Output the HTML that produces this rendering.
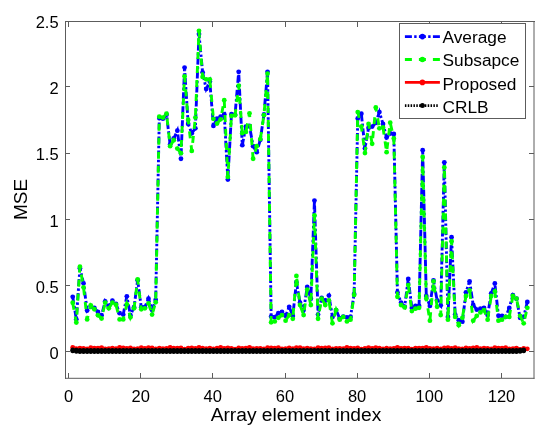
<!DOCTYPE html>
<html><head><meta charset="utf-8"><title>MSE plot</title>
<style>html,body{margin:0;padding:0;background:#fff;}body{width:550px;height:434px;position:relative;overflow:hidden;font-family:"Liberation Sans",Arial,sans-serif;}</style></head>
<body>
<svg width="550" height="434" viewBox="0 0 550 434" style="display:block;position:absolute;left:0;top:0" font-family="'Liberation Sans',Arial,sans-serif" fill="#000">
<rect width="550" height="434" fill="#fff"/>
<g stroke="#5c5c5c" stroke-width="1" fill="none" shape-rendering="crispEdges">
<line x1="65.0" y1="21.5" x2="534.5" y2="21.5"/>
<line x1="65.5" y1="21.5" x2="65.5" y2="378.8"/>
<line x1="65.0" y1="378.3" x2="534.5" y2="378.3" shape-rendering="auto"/>
<line x1="534.0" y1="21.0" x2="534.0" y2="378.8" shape-rendering="auto"/>
<line x1="68.5" y1="378.3" x2="68.5" y2="373.3"/>
<line x1="68.5" y1="21.5" x2="68.5" y2="26.5"/>
<line x1="140.7" y1="378.3" x2="140.7" y2="373.3"/>
<line x1="140.7" y1="21.5" x2="140.7" y2="26.5"/>
<line x1="212.8" y1="378.3" x2="212.8" y2="373.3"/>
<line x1="212.8" y1="21.5" x2="212.8" y2="26.5"/>
<line x1="285.0" y1="378.3" x2="285.0" y2="373.3"/>
<line x1="285.0" y1="21.5" x2="285.0" y2="26.5"/>
<line x1="357.1" y1="378.3" x2="357.1" y2="373.3"/>
<line x1="357.1" y1="21.5" x2="357.1" y2="26.5"/>
<line x1="429.3" y1="378.3" x2="429.3" y2="373.3"/>
<line x1="429.3" y1="21.5" x2="429.3" y2="26.5"/>
<line x1="501.5" y1="378.3" x2="501.5" y2="373.3"/>
<line x1="501.5" y1="21.5" x2="501.5" y2="26.5"/>
<line x1="65.5" y1="351.6" x2="70.0" y2="351.6"/>
<line x1="534.0" y1="351.6" x2="528.5" y2="351.6"/>
<line x1="65.5" y1="285.4" x2="70.0" y2="285.4"/>
<line x1="534.0" y1="285.4" x2="528.5" y2="285.4"/>
<line x1="65.5" y1="219.3" x2="70.0" y2="219.3"/>
<line x1="534.0" y1="219.3" x2="528.5" y2="219.3"/>
<line x1="65.5" y1="153.1" x2="70.0" y2="153.1"/>
<line x1="534.0" y1="153.1" x2="528.5" y2="153.1"/>
<line x1="65.5" y1="86.9" x2="70.0" y2="86.9"/>
<line x1="534.0" y1="86.9" x2="528.5" y2="86.9"/>
</g>
<g font-size="16.5px">
<text x="68.5" y="402.3" text-anchor="middle">0</text>
<text x="140.7" y="402.3" text-anchor="middle">20</text>
<text x="212.8" y="402.3" text-anchor="middle">40</text>
<text x="285.0" y="402.3" text-anchor="middle">60</text>
<text x="357.1" y="402.3" text-anchor="middle">80</text>
<text x="429.3" y="402.3" text-anchor="middle">100</text>
<text x="501.5" y="402.3" text-anchor="middle">120</text>
<text x="58.6" y="358.8" text-anchor="end">0</text>
<text x="58.6" y="292.6" text-anchor="end">0.5</text>
<text x="58.6" y="226.5" text-anchor="end">1</text>
<text x="58.6" y="160.3" text-anchor="end">1.5</text>
<text x="58.6" y="94.1" text-anchor="end">2</text>
<text x="58.6" y="27.9" text-anchor="end">2.5</text>
</g>
<text x="296" y="420.5" font-size="19.2px" text-anchor="middle">Array element index</text>
<text transform="translate(27.4,199.5) rotate(-90)" font-size="19px" text-anchor="middle">MSE</text>
<g fill="none" stroke-width="2.9">
<polyline points="72.71,296.81 76.32,319.31 79.92,268.22 83.53,283.31 87.14,310.57 90.75,306.60 94.36,307.92 97.96,311.90 101.57,315.20 105.18,301.31 108.79,306.60 112.40,300.65 116.00,303.95 119.61,313.22 123.22,314.54 126.83,296.28 130.44,315.20 134.04,307.26 137.65,280.13 141.26,307.26 144.87,307.26 148.48,298.66 152.08,309.91 155.69,299.98 159.30,118.00 162.91,118.66 166.52,114.69 170.12,144.47 173.73,138.52 177.34,130.71 180.95,158.77 184.56,67.58 188.16,123.96 191.77,133.22 195.38,128.33 198.99,33.96 202.60,72.34 206.20,88.89 209.81,81.61 213.42,125.94 217.03,118.66 220.64,116.68 224.24,114.16 227.85,179.55 231.46,114.16 235.07,114.69 238.68,71.81 242.28,145.13 245.89,126.61 249.50,125.94 253.11,146.19 256.72,152.15 260.32,139.84 263.93,114.69 267.54,71.81 271.15,316.53 274.76,317.19 278.36,313.22 281.97,311.90 285.58,315.87 289.19,306.87 292.80,316.00 296.40,282.25 300.01,302.63 303.62,310.04 307.23,286.88 310.84,298.66 314.44,200.59 318.05,314.54 321.66,298.00 325.27,300.65 328.88,295.62 332.48,316.92 336.09,310.04 339.70,318.51 343.31,316.53 346.92,317.32 350.52,316.92 354.13,294.03 357.74,118.40 361.35,113.77 364.96,148.44 368.56,127.93 372.17,126.61 375.78,122.90 379.39,112.05 383.00,123.96 386.60,137.59 390.21,133.49 393.82,133.88 397.43,292.31 401.04,302.63 404.64,306.60 408.25,278.94 411.86,307.92 415.47,305.94 419.08,305.94 422.68,150.16 426.29,296.01 429.90,305.94 433.51,280.40 437.12,300.51 440.72,305.28 444.33,162.34 447.94,316.92 451.55,237.25 455.16,314.54 458.76,320.23 462.37,321.69 465.98,292.31 469.59,281.32 473.20,305.01 476.80,309.65 480.41,308.72 484.02,307.92 487.63,315.07 491.24,293.37 494.84,283.44 498.45,315.87 502.06,315.87 505.67,316.92 509.28,307.92 512.88,295.09 516.49,298.66 520.10,317.85 523.71,316.92 527.32,301.97" stroke="#0000ff" stroke-dasharray="7 2.3 2.4 2.3"/>
<circle cx="72.71" cy="296.81" r="2.4" fill="#0000ff"/><circle cx="76.32" cy="319.31" r="2.4" fill="#0000ff"/><circle cx="79.92" cy="268.22" r="2.4" fill="#0000ff"/><circle cx="83.53" cy="283.31" r="2.4" fill="#0000ff"/><circle cx="87.14" cy="310.57" r="2.4" fill="#0000ff"/><circle cx="90.75" cy="306.60" r="2.4" fill="#0000ff"/><circle cx="94.36" cy="307.92" r="2.4" fill="#0000ff"/><circle cx="97.96" cy="311.90" r="2.4" fill="#0000ff"/><circle cx="101.57" cy="315.20" r="2.4" fill="#0000ff"/><circle cx="105.18" cy="301.31" r="2.4" fill="#0000ff"/><circle cx="108.79" cy="306.60" r="2.4" fill="#0000ff"/><circle cx="112.40" cy="300.65" r="2.4" fill="#0000ff"/><circle cx="116.00" cy="303.95" r="2.4" fill="#0000ff"/><circle cx="119.61" cy="313.22" r="2.4" fill="#0000ff"/><circle cx="123.22" cy="314.54" r="2.4" fill="#0000ff"/><circle cx="126.83" cy="296.28" r="2.4" fill="#0000ff"/><circle cx="130.44" cy="315.20" r="2.4" fill="#0000ff"/><circle cx="134.04" cy="307.26" r="2.4" fill="#0000ff"/><circle cx="137.65" cy="280.13" r="2.4" fill="#0000ff"/><circle cx="141.26" cy="307.26" r="2.4" fill="#0000ff"/><circle cx="144.87" cy="307.26" r="2.4" fill="#0000ff"/><circle cx="148.48" cy="298.66" r="2.4" fill="#0000ff"/><circle cx="152.08" cy="309.91" r="2.4" fill="#0000ff"/><circle cx="155.69" cy="299.98" r="2.4" fill="#0000ff"/><circle cx="159.30" cy="118.00" r="2.4" fill="#0000ff"/><circle cx="162.91" cy="118.66" r="2.4" fill="#0000ff"/><circle cx="166.52" cy="114.69" r="2.4" fill="#0000ff"/><circle cx="170.12" cy="144.47" r="2.4" fill="#0000ff"/><circle cx="173.73" cy="138.52" r="2.4" fill="#0000ff"/><circle cx="177.34" cy="130.71" r="2.4" fill="#0000ff"/><circle cx="180.95" cy="158.77" r="2.4" fill="#0000ff"/><circle cx="184.56" cy="67.58" r="2.4" fill="#0000ff"/><circle cx="188.16" cy="123.96" r="2.4" fill="#0000ff"/><circle cx="191.77" cy="133.22" r="2.4" fill="#0000ff"/><circle cx="195.38" cy="128.33" r="2.4" fill="#0000ff"/><circle cx="198.99" cy="33.96" r="2.4" fill="#0000ff"/><circle cx="202.60" cy="72.34" r="2.4" fill="#0000ff"/><circle cx="206.20" cy="88.89" r="2.4" fill="#0000ff"/><circle cx="209.81" cy="81.61" r="2.4" fill="#0000ff"/><circle cx="213.42" cy="125.94" r="2.4" fill="#0000ff"/><circle cx="217.03" cy="118.66" r="2.4" fill="#0000ff"/><circle cx="220.64" cy="116.68" r="2.4" fill="#0000ff"/><circle cx="224.24" cy="114.16" r="2.4" fill="#0000ff"/><circle cx="227.85" cy="179.55" r="2.4" fill="#0000ff"/><circle cx="231.46" cy="114.16" r="2.4" fill="#0000ff"/><circle cx="235.07" cy="114.69" r="2.4" fill="#0000ff"/><circle cx="238.68" cy="71.81" r="2.4" fill="#0000ff"/><circle cx="242.28" cy="145.13" r="2.4" fill="#0000ff"/><circle cx="245.89" cy="126.61" r="2.4" fill="#0000ff"/><circle cx="249.50" cy="125.94" r="2.4" fill="#0000ff"/><circle cx="253.11" cy="146.19" r="2.4" fill="#0000ff"/><circle cx="256.72" cy="152.15" r="2.4" fill="#0000ff"/><circle cx="260.32" cy="139.84" r="2.4" fill="#0000ff"/><circle cx="263.93" cy="114.69" r="2.4" fill="#0000ff"/><circle cx="267.54" cy="71.81" r="2.4" fill="#0000ff"/><circle cx="271.15" cy="316.53" r="2.4" fill="#0000ff"/><circle cx="274.76" cy="317.19" r="2.4" fill="#0000ff"/><circle cx="278.36" cy="313.22" r="2.4" fill="#0000ff"/><circle cx="281.97" cy="311.90" r="2.4" fill="#0000ff"/><circle cx="285.58" cy="315.87" r="2.4" fill="#0000ff"/><circle cx="289.19" cy="306.87" r="2.4" fill="#0000ff"/><circle cx="292.80" cy="316.00" r="2.4" fill="#0000ff"/><circle cx="296.40" cy="282.25" r="2.4" fill="#0000ff"/><circle cx="300.01" cy="302.63" r="2.4" fill="#0000ff"/><circle cx="303.62" cy="310.04" r="2.4" fill="#0000ff"/><circle cx="307.23" cy="286.88" r="2.4" fill="#0000ff"/><circle cx="310.84" cy="298.66" r="2.4" fill="#0000ff"/><circle cx="314.44" cy="200.59" r="2.4" fill="#0000ff"/><circle cx="318.05" cy="314.54" r="2.4" fill="#0000ff"/><circle cx="321.66" cy="298.00" r="2.4" fill="#0000ff"/><circle cx="325.27" cy="300.65" r="2.4" fill="#0000ff"/><circle cx="328.88" cy="295.62" r="2.4" fill="#0000ff"/><circle cx="332.48" cy="316.92" r="2.4" fill="#0000ff"/><circle cx="336.09" cy="310.04" r="2.4" fill="#0000ff"/><circle cx="339.70" cy="318.51" r="2.4" fill="#0000ff"/><circle cx="343.31" cy="316.53" r="2.4" fill="#0000ff"/><circle cx="346.92" cy="317.32" r="2.4" fill="#0000ff"/><circle cx="350.52" cy="316.92" r="2.4" fill="#0000ff"/><circle cx="354.13" cy="294.03" r="2.4" fill="#0000ff"/><circle cx="357.74" cy="118.40" r="2.4" fill="#0000ff"/><circle cx="361.35" cy="113.77" r="2.4" fill="#0000ff"/><circle cx="364.96" cy="148.44" r="2.4" fill="#0000ff"/><circle cx="368.56" cy="127.93" r="2.4" fill="#0000ff"/><circle cx="372.17" cy="126.61" r="2.4" fill="#0000ff"/><circle cx="375.78" cy="122.90" r="2.4" fill="#0000ff"/><circle cx="379.39" cy="112.05" r="2.4" fill="#0000ff"/><circle cx="383.00" cy="123.96" r="2.4" fill="#0000ff"/><circle cx="386.60" cy="137.59" r="2.4" fill="#0000ff"/><circle cx="390.21" cy="133.49" r="2.4" fill="#0000ff"/><circle cx="393.82" cy="133.88" r="2.4" fill="#0000ff"/><circle cx="397.43" cy="292.31" r="2.4" fill="#0000ff"/><circle cx="401.04" cy="302.63" r="2.4" fill="#0000ff"/><circle cx="404.64" cy="306.60" r="2.4" fill="#0000ff"/><circle cx="408.25" cy="278.94" r="2.4" fill="#0000ff"/><circle cx="411.86" cy="307.92" r="2.4" fill="#0000ff"/><circle cx="415.47" cy="305.94" r="2.4" fill="#0000ff"/><circle cx="419.08" cy="305.94" r="2.4" fill="#0000ff"/><circle cx="422.68" cy="150.16" r="2.4" fill="#0000ff"/><circle cx="426.29" cy="296.01" r="2.4" fill="#0000ff"/><circle cx="429.90" cy="305.94" r="2.4" fill="#0000ff"/><circle cx="433.51" cy="280.40" r="2.4" fill="#0000ff"/><circle cx="437.12" cy="300.51" r="2.4" fill="#0000ff"/><circle cx="440.72" cy="305.28" r="2.4" fill="#0000ff"/><circle cx="444.33" cy="162.34" r="2.4" fill="#0000ff"/><circle cx="447.94" cy="316.92" r="2.4" fill="#0000ff"/><circle cx="451.55" cy="237.25" r="2.4" fill="#0000ff"/><circle cx="455.16" cy="314.54" r="2.4" fill="#0000ff"/><circle cx="458.76" cy="320.23" r="2.4" fill="#0000ff"/><circle cx="462.37" cy="321.69" r="2.4" fill="#0000ff"/><circle cx="465.98" cy="292.31" r="2.4" fill="#0000ff"/><circle cx="469.59" cy="281.32" r="2.4" fill="#0000ff"/><circle cx="473.20" cy="305.01" r="2.4" fill="#0000ff"/><circle cx="476.80" cy="309.65" r="2.4" fill="#0000ff"/><circle cx="480.41" cy="308.72" r="2.4" fill="#0000ff"/><circle cx="484.02" cy="307.92" r="2.4" fill="#0000ff"/><circle cx="487.63" cy="315.07" r="2.4" fill="#0000ff"/><circle cx="491.24" cy="293.37" r="2.4" fill="#0000ff"/><circle cx="494.84" cy="283.44" r="2.4" fill="#0000ff"/><circle cx="498.45" cy="315.87" r="2.4" fill="#0000ff"/><circle cx="502.06" cy="315.87" r="2.4" fill="#0000ff"/><circle cx="505.67" cy="316.92" r="2.4" fill="#0000ff"/><circle cx="509.28" cy="307.92" r="2.4" fill="#0000ff"/><circle cx="512.88" cy="295.09" r="2.4" fill="#0000ff"/><circle cx="516.49" cy="298.66" r="2.4" fill="#0000ff"/><circle cx="520.10" cy="317.85" r="2.4" fill="#0000ff"/><circle cx="523.71" cy="316.92" r="2.4" fill="#0000ff"/><circle cx="527.32" cy="301.97" r="2.4" fill="#0000ff"/>
<polyline points="72.71,302.76 76.32,322.48 79.92,266.63 83.53,287.28 87.14,319.44 90.75,305.28 94.36,309.25 97.96,315.34 101.57,318.51 105.18,302.63 108.79,308.32 112.40,302.63 116.00,304.75 119.61,319.44 123.22,319.44 126.83,304.35 130.44,317.32 134.04,308.32 137.65,279.34 141.26,309.25 144.87,308.32 148.48,303.29 152.08,314.54 155.69,302.23 159.30,116.68 162.91,117.61 166.52,113.63 170.12,146.19 173.73,140.24 177.34,148.58 180.95,153.21 184.56,76.31 188.16,119.99 191.77,150.96 195.38,117.61 198.99,30.78 202.60,76.97 206.20,79.36 209.81,79.36 213.42,118.80 217.03,123.56 220.64,119.33 224.24,100.14 227.85,176.90 231.46,116.02 235.07,115.36 238.68,85.58 242.28,133.22 245.89,131.90 249.50,113.37 253.11,158.77 256.72,146.19 260.32,139.05 263.93,115.22 267.54,73.67 271.15,322.35 274.76,321.42 278.36,317.85 281.97,315.07 285.58,320.63 289.19,315.07 292.80,318.78 296.40,275.90 300.01,305.01 303.62,315.07 307.23,289.53 310.84,305.01 314.44,215.28 318.05,318.78 321.66,298.66 325.27,305.01 328.88,300.51 332.48,323.28 336.09,310.04 339.70,319.70 343.31,316.92 346.92,321.42 350.52,319.70 354.13,295.09 357.74,112.05 361.35,126.61 364.96,153.08 368.56,123.96 372.17,143.81 375.78,107.41 379.39,128.33 383.00,127.40 386.60,152.15 390.21,122.63 393.82,138.52 397.43,296.81 401.04,305.01 404.64,307.40 408.25,285.03 411.86,311.10 415.47,308.72 419.08,307.79 422.68,156.91 426.29,298.66 429.90,320.63 433.51,281.45 437.12,306.87 440.72,315.07 444.33,167.50 447.94,319.70 451.55,241.22 455.16,316.92 458.76,325.13 462.37,317.85 465.98,296.01 469.59,290.45 473.20,320.63 476.80,315.87 480.41,312.42 484.02,310.04 487.63,319.70 491.24,296.01 494.84,291.38 498.45,320.63 502.06,319.70 505.67,316.92 509.28,316.92 512.88,296.01 516.49,298.66 520.10,315.87 523.71,323.28 527.32,307.79" stroke="#00ff00" stroke-dasharray="7 7"/>
<circle cx="72.71" cy="302.76" r="2.4" fill="#00ff00"/><circle cx="76.32" cy="322.48" r="2.4" fill="#00ff00"/><circle cx="79.92" cy="266.63" r="2.4" fill="#00ff00"/><circle cx="83.53" cy="287.28" r="2.4" fill="#00ff00"/><circle cx="87.14" cy="319.44" r="2.4" fill="#00ff00"/><circle cx="90.75" cy="305.28" r="2.4" fill="#00ff00"/><circle cx="94.36" cy="309.25" r="2.4" fill="#00ff00"/><circle cx="97.96" cy="315.34" r="2.4" fill="#00ff00"/><circle cx="101.57" cy="318.51" r="2.4" fill="#00ff00"/><circle cx="105.18" cy="302.63" r="2.4" fill="#00ff00"/><circle cx="108.79" cy="308.32" r="2.4" fill="#00ff00"/><circle cx="112.40" cy="302.63" r="2.4" fill="#00ff00"/><circle cx="116.00" cy="304.75" r="2.4" fill="#00ff00"/><circle cx="119.61" cy="319.44" r="2.4" fill="#00ff00"/><circle cx="123.22" cy="319.44" r="2.4" fill="#00ff00"/><circle cx="126.83" cy="304.35" r="2.4" fill="#00ff00"/><circle cx="130.44" cy="317.32" r="2.4" fill="#00ff00"/><circle cx="134.04" cy="308.32" r="2.4" fill="#00ff00"/><circle cx="137.65" cy="279.34" r="2.4" fill="#00ff00"/><circle cx="141.26" cy="309.25" r="2.4" fill="#00ff00"/><circle cx="144.87" cy="308.32" r="2.4" fill="#00ff00"/><circle cx="148.48" cy="303.29" r="2.4" fill="#00ff00"/><circle cx="152.08" cy="314.54" r="2.4" fill="#00ff00"/><circle cx="155.69" cy="302.23" r="2.4" fill="#00ff00"/><circle cx="159.30" cy="116.68" r="2.4" fill="#00ff00"/><circle cx="162.91" cy="117.61" r="2.4" fill="#00ff00"/><circle cx="166.52" cy="113.63" r="2.4" fill="#00ff00"/><circle cx="170.12" cy="146.19" r="2.4" fill="#00ff00"/><circle cx="173.73" cy="140.24" r="2.4" fill="#00ff00"/><circle cx="177.34" cy="148.58" r="2.4" fill="#00ff00"/><circle cx="180.95" cy="153.21" r="2.4" fill="#00ff00"/><circle cx="184.56" cy="76.31" r="2.4" fill="#00ff00"/><circle cx="188.16" cy="119.99" r="2.4" fill="#00ff00"/><circle cx="191.77" cy="150.96" r="2.4" fill="#00ff00"/><circle cx="195.38" cy="117.61" r="2.4" fill="#00ff00"/><circle cx="198.99" cy="30.78" r="2.4" fill="#00ff00"/><circle cx="202.60" cy="76.97" r="2.4" fill="#00ff00"/><circle cx="206.20" cy="79.36" r="2.4" fill="#00ff00"/><circle cx="209.81" cy="79.36" r="2.4" fill="#00ff00"/><circle cx="213.42" cy="118.80" r="2.4" fill="#00ff00"/><circle cx="217.03" cy="123.56" r="2.4" fill="#00ff00"/><circle cx="220.64" cy="119.33" r="2.4" fill="#00ff00"/><circle cx="224.24" cy="100.14" r="2.4" fill="#00ff00"/><circle cx="227.85" cy="176.90" r="2.4" fill="#00ff00"/><circle cx="231.46" cy="116.02" r="2.4" fill="#00ff00"/><circle cx="235.07" cy="115.36" r="2.4" fill="#00ff00"/><circle cx="238.68" cy="85.58" r="2.4" fill="#00ff00"/><circle cx="242.28" cy="133.22" r="2.4" fill="#00ff00"/><circle cx="245.89" cy="131.90" r="2.4" fill="#00ff00"/><circle cx="249.50" cy="113.37" r="2.4" fill="#00ff00"/><circle cx="253.11" cy="158.77" r="2.4" fill="#00ff00"/><circle cx="256.72" cy="146.19" r="2.4" fill="#00ff00"/><circle cx="260.32" cy="139.05" r="2.4" fill="#00ff00"/><circle cx="263.93" cy="115.22" r="2.4" fill="#00ff00"/><circle cx="267.54" cy="73.67" r="2.4" fill="#00ff00"/><circle cx="271.15" cy="322.35" r="2.4" fill="#00ff00"/><circle cx="274.76" cy="321.42" r="2.4" fill="#00ff00"/><circle cx="278.36" cy="317.85" r="2.4" fill="#00ff00"/><circle cx="281.97" cy="315.07" r="2.4" fill="#00ff00"/><circle cx="285.58" cy="320.63" r="2.4" fill="#00ff00"/><circle cx="289.19" cy="315.07" r="2.4" fill="#00ff00"/><circle cx="292.80" cy="318.78" r="2.4" fill="#00ff00"/><circle cx="296.40" cy="275.90" r="2.4" fill="#00ff00"/><circle cx="300.01" cy="305.01" r="2.4" fill="#00ff00"/><circle cx="303.62" cy="315.07" r="2.4" fill="#00ff00"/><circle cx="307.23" cy="289.53" r="2.4" fill="#00ff00"/><circle cx="310.84" cy="305.01" r="2.4" fill="#00ff00"/><circle cx="314.44" cy="215.28" r="2.4" fill="#00ff00"/><circle cx="318.05" cy="318.78" r="2.4" fill="#00ff00"/><circle cx="321.66" cy="298.66" r="2.4" fill="#00ff00"/><circle cx="325.27" cy="305.01" r="2.4" fill="#00ff00"/><circle cx="328.88" cy="300.51" r="2.4" fill="#00ff00"/><circle cx="332.48" cy="323.28" r="2.4" fill="#00ff00"/><circle cx="336.09" cy="310.04" r="2.4" fill="#00ff00"/><circle cx="339.70" cy="319.70" r="2.4" fill="#00ff00"/><circle cx="343.31" cy="316.92" r="2.4" fill="#00ff00"/><circle cx="346.92" cy="321.42" r="2.4" fill="#00ff00"/><circle cx="350.52" cy="319.70" r="2.4" fill="#00ff00"/><circle cx="354.13" cy="295.09" r="2.4" fill="#00ff00"/><circle cx="357.74" cy="112.05" r="2.4" fill="#00ff00"/><circle cx="361.35" cy="126.61" r="2.4" fill="#00ff00"/><circle cx="364.96" cy="153.08" r="2.4" fill="#00ff00"/><circle cx="368.56" cy="123.96" r="2.4" fill="#00ff00"/><circle cx="372.17" cy="143.81" r="2.4" fill="#00ff00"/><circle cx="375.78" cy="107.41" r="2.4" fill="#00ff00"/><circle cx="379.39" cy="128.33" r="2.4" fill="#00ff00"/><circle cx="383.00" cy="127.40" r="2.4" fill="#00ff00"/><circle cx="386.60" cy="152.15" r="2.4" fill="#00ff00"/><circle cx="390.21" cy="122.63" r="2.4" fill="#00ff00"/><circle cx="393.82" cy="138.52" r="2.4" fill="#00ff00"/><circle cx="397.43" cy="296.81" r="2.4" fill="#00ff00"/><circle cx="401.04" cy="305.01" r="2.4" fill="#00ff00"/><circle cx="404.64" cy="307.40" r="2.4" fill="#00ff00"/><circle cx="408.25" cy="285.03" r="2.4" fill="#00ff00"/><circle cx="411.86" cy="311.10" r="2.4" fill="#00ff00"/><circle cx="415.47" cy="308.72" r="2.4" fill="#00ff00"/><circle cx="419.08" cy="307.79" r="2.4" fill="#00ff00"/><circle cx="422.68" cy="156.91" r="2.4" fill="#00ff00"/><circle cx="426.29" cy="298.66" r="2.4" fill="#00ff00"/><circle cx="429.90" cy="320.63" r="2.4" fill="#00ff00"/><circle cx="433.51" cy="281.45" r="2.4" fill="#00ff00"/><circle cx="437.12" cy="306.87" r="2.4" fill="#00ff00"/><circle cx="440.72" cy="315.07" r="2.4" fill="#00ff00"/><circle cx="444.33" cy="167.50" r="2.4" fill="#00ff00"/><circle cx="447.94" cy="319.70" r="2.4" fill="#00ff00"/><circle cx="451.55" cy="241.22" r="2.4" fill="#00ff00"/><circle cx="455.16" cy="316.92" r="2.4" fill="#00ff00"/><circle cx="458.76" cy="325.13" r="2.4" fill="#00ff00"/><circle cx="462.37" cy="317.85" r="2.4" fill="#00ff00"/><circle cx="465.98" cy="296.01" r="2.4" fill="#00ff00"/><circle cx="469.59" cy="290.45" r="2.4" fill="#00ff00"/><circle cx="473.20" cy="320.63" r="2.4" fill="#00ff00"/><circle cx="476.80" cy="315.87" r="2.4" fill="#00ff00"/><circle cx="480.41" cy="312.42" r="2.4" fill="#00ff00"/><circle cx="484.02" cy="310.04" r="2.4" fill="#00ff00"/><circle cx="487.63" cy="319.70" r="2.4" fill="#00ff00"/><circle cx="491.24" cy="296.01" r="2.4" fill="#00ff00"/><circle cx="494.84" cy="291.38" r="2.4" fill="#00ff00"/><circle cx="498.45" cy="320.63" r="2.4" fill="#00ff00"/><circle cx="502.06" cy="319.70" r="2.4" fill="#00ff00"/><circle cx="505.67" cy="316.92" r="2.4" fill="#00ff00"/><circle cx="509.28" cy="316.92" r="2.4" fill="#00ff00"/><circle cx="512.88" cy="296.01" r="2.4" fill="#00ff00"/><circle cx="516.49" cy="298.66" r="2.4" fill="#00ff00"/><circle cx="520.10" cy="315.87" r="2.4" fill="#00ff00"/><circle cx="523.71" cy="323.28" r="2.4" fill="#00ff00"/><circle cx="527.32" cy="307.79" r="2.4" fill="#00ff00"/>
<polyline points="72.71,347.45 76.32,348.62 79.92,348.13 83.53,348.50 87.14,348.97 90.75,347.68 94.36,348.09 97.96,348.08 101.57,347.59 105.18,348.89 108.79,348.53 112.40,348.17 116.00,348.70 119.61,347.51 123.22,347.82 126.83,348.52 130.44,347.92 134.04,348.90 137.65,348.64 141.26,347.69 144.87,348.37 148.48,347.68 152.08,347.85 155.69,348.97 159.30,348.19 162.91,348.55 166.52,348.51 170.12,347.35 173.73,348.21 177.34,348.18 180.95,348.02 184.56,349.14 188.16,348.23 191.77,347.98 195.38,348.36 198.99,347.39 202.60,348.27 206.20,348.75 209.81,348.10 213.42,348.89 217.03,348.12 220.64,347.50 224.24,348.39 227.85,347.80 231.46,348.38 235.07,349.07 238.68,347.97 242.28,348.37 245.89,348.07 249.50,347.37 253.11,348.60 256.72,348.36 260.32,348.31 263.93,349.00 267.54,347.74 271.15,347.86 274.76,348.27 278.36,347.62 281.97,348.78 285.58,348.74 289.19,348.00 292.80,348.62 296.40,347.66 300.01,347.64 303.62,348.66 307.23,348.04 310.84,348.71 314.44,348.79 318.05,347.59 321.66,348.23 325.27,347.91 328.88,347.74 332.48,349.01 336.09,348.34 339.70,348.30 343.31,348.59 346.92,347.37 350.52,348.05 354.13,348.42 357.74,347.98 361.35,349.05 364.96,348.39 368.56,347.75 372.17,348.38 375.78,347.53 379.39,348.11 383.00,348.93 386.60,348.11 390.21,348.70 393.82,348.28 397.43,347.36 401.04,348.36 404.64,348.03 408.25,348.22 411.86,349.14 415.47,348.03 419.08,348.12 422.68,348.23 426.29,347.36 429.90,348.51 433.51,348.60 437.12,348.17 440.72,348.94 444.33,347.86 447.94,347.64 451.55,348.39 455.16,347.73 458.76,348.63 462.37,348.93 465.98,347.90 469.59,348.47 473.20,347.85 476.80,347.50 480.41,348.72 484.02,348.22 487.63,348.49 491.24,348.89 494.84,347.58 498.45,348.04 502.06,348.14 505.67,347.69 509.28,348.97 512.88,348.53 516.49,348.08 520.10,349.52 523.71,348.40 527.32,348.80" stroke="#ff0000"/>
<circle cx="72.71" cy="347.45" r="2.4" fill="#ff0000"/><circle cx="76.32" cy="348.62" r="2.4" fill="#ff0000"/><circle cx="79.92" cy="348.13" r="2.4" fill="#ff0000"/><circle cx="83.53" cy="348.50" r="2.4" fill="#ff0000"/><circle cx="87.14" cy="348.97" r="2.4" fill="#ff0000"/><circle cx="90.75" cy="347.68" r="2.4" fill="#ff0000"/><circle cx="94.36" cy="348.09" r="2.4" fill="#ff0000"/><circle cx="97.96" cy="348.08" r="2.4" fill="#ff0000"/><circle cx="101.57" cy="347.59" r="2.4" fill="#ff0000"/><circle cx="105.18" cy="348.89" r="2.4" fill="#ff0000"/><circle cx="108.79" cy="348.53" r="2.4" fill="#ff0000"/><circle cx="112.40" cy="348.17" r="2.4" fill="#ff0000"/><circle cx="116.00" cy="348.70" r="2.4" fill="#ff0000"/><circle cx="119.61" cy="347.51" r="2.4" fill="#ff0000"/><circle cx="123.22" cy="347.82" r="2.4" fill="#ff0000"/><circle cx="126.83" cy="348.52" r="2.4" fill="#ff0000"/><circle cx="130.44" cy="347.92" r="2.4" fill="#ff0000"/><circle cx="134.04" cy="348.90" r="2.4" fill="#ff0000"/><circle cx="137.65" cy="348.64" r="2.4" fill="#ff0000"/><circle cx="141.26" cy="347.69" r="2.4" fill="#ff0000"/><circle cx="144.87" cy="348.37" r="2.4" fill="#ff0000"/><circle cx="148.48" cy="347.68" r="2.4" fill="#ff0000"/><circle cx="152.08" cy="347.85" r="2.4" fill="#ff0000"/><circle cx="155.69" cy="348.97" r="2.4" fill="#ff0000"/><circle cx="159.30" cy="348.19" r="2.4" fill="#ff0000"/><circle cx="162.91" cy="348.55" r="2.4" fill="#ff0000"/><circle cx="166.52" cy="348.51" r="2.4" fill="#ff0000"/><circle cx="170.12" cy="347.35" r="2.4" fill="#ff0000"/><circle cx="173.73" cy="348.21" r="2.4" fill="#ff0000"/><circle cx="177.34" cy="348.18" r="2.4" fill="#ff0000"/><circle cx="180.95" cy="348.02" r="2.4" fill="#ff0000"/><circle cx="184.56" cy="349.14" r="2.4" fill="#ff0000"/><circle cx="188.16" cy="348.23" r="2.4" fill="#ff0000"/><circle cx="191.77" cy="347.98" r="2.4" fill="#ff0000"/><circle cx="195.38" cy="348.36" r="2.4" fill="#ff0000"/><circle cx="198.99" cy="347.39" r="2.4" fill="#ff0000"/><circle cx="202.60" cy="348.27" r="2.4" fill="#ff0000"/><circle cx="206.20" cy="348.75" r="2.4" fill="#ff0000"/><circle cx="209.81" cy="348.10" r="2.4" fill="#ff0000"/><circle cx="213.42" cy="348.89" r="2.4" fill="#ff0000"/><circle cx="217.03" cy="348.12" r="2.4" fill="#ff0000"/><circle cx="220.64" cy="347.50" r="2.4" fill="#ff0000"/><circle cx="224.24" cy="348.39" r="2.4" fill="#ff0000"/><circle cx="227.85" cy="347.80" r="2.4" fill="#ff0000"/><circle cx="231.46" cy="348.38" r="2.4" fill="#ff0000"/><circle cx="235.07" cy="349.07" r="2.4" fill="#ff0000"/><circle cx="238.68" cy="347.97" r="2.4" fill="#ff0000"/><circle cx="242.28" cy="348.37" r="2.4" fill="#ff0000"/><circle cx="245.89" cy="348.07" r="2.4" fill="#ff0000"/><circle cx="249.50" cy="347.37" r="2.4" fill="#ff0000"/><circle cx="253.11" cy="348.60" r="2.4" fill="#ff0000"/><circle cx="256.72" cy="348.36" r="2.4" fill="#ff0000"/><circle cx="260.32" cy="348.31" r="2.4" fill="#ff0000"/><circle cx="263.93" cy="349.00" r="2.4" fill="#ff0000"/><circle cx="267.54" cy="347.74" r="2.4" fill="#ff0000"/><circle cx="271.15" cy="347.86" r="2.4" fill="#ff0000"/><circle cx="274.76" cy="348.27" r="2.4" fill="#ff0000"/><circle cx="278.36" cy="347.62" r="2.4" fill="#ff0000"/><circle cx="281.97" cy="348.78" r="2.4" fill="#ff0000"/><circle cx="285.58" cy="348.74" r="2.4" fill="#ff0000"/><circle cx="289.19" cy="348.00" r="2.4" fill="#ff0000"/><circle cx="292.80" cy="348.62" r="2.4" fill="#ff0000"/><circle cx="296.40" cy="347.66" r="2.4" fill="#ff0000"/><circle cx="300.01" cy="347.64" r="2.4" fill="#ff0000"/><circle cx="303.62" cy="348.66" r="2.4" fill="#ff0000"/><circle cx="307.23" cy="348.04" r="2.4" fill="#ff0000"/><circle cx="310.84" cy="348.71" r="2.4" fill="#ff0000"/><circle cx="314.44" cy="348.79" r="2.4" fill="#ff0000"/><circle cx="318.05" cy="347.59" r="2.4" fill="#ff0000"/><circle cx="321.66" cy="348.23" r="2.4" fill="#ff0000"/><circle cx="325.27" cy="347.91" r="2.4" fill="#ff0000"/><circle cx="328.88" cy="347.74" r="2.4" fill="#ff0000"/><circle cx="332.48" cy="349.01" r="2.4" fill="#ff0000"/><circle cx="336.09" cy="348.34" r="2.4" fill="#ff0000"/><circle cx="339.70" cy="348.30" r="2.4" fill="#ff0000"/><circle cx="343.31" cy="348.59" r="2.4" fill="#ff0000"/><circle cx="346.92" cy="347.37" r="2.4" fill="#ff0000"/><circle cx="350.52" cy="348.05" r="2.4" fill="#ff0000"/><circle cx="354.13" cy="348.42" r="2.4" fill="#ff0000"/><circle cx="357.74" cy="347.98" r="2.4" fill="#ff0000"/><circle cx="361.35" cy="349.05" r="2.4" fill="#ff0000"/><circle cx="364.96" cy="348.39" r="2.4" fill="#ff0000"/><circle cx="368.56" cy="347.75" r="2.4" fill="#ff0000"/><circle cx="372.17" cy="348.38" r="2.4" fill="#ff0000"/><circle cx="375.78" cy="347.53" r="2.4" fill="#ff0000"/><circle cx="379.39" cy="348.11" r="2.4" fill="#ff0000"/><circle cx="383.00" cy="348.93" r="2.4" fill="#ff0000"/><circle cx="386.60" cy="348.11" r="2.4" fill="#ff0000"/><circle cx="390.21" cy="348.70" r="2.4" fill="#ff0000"/><circle cx="393.82" cy="348.28" r="2.4" fill="#ff0000"/><circle cx="397.43" cy="347.36" r="2.4" fill="#ff0000"/><circle cx="401.04" cy="348.36" r="2.4" fill="#ff0000"/><circle cx="404.64" cy="348.03" r="2.4" fill="#ff0000"/><circle cx="408.25" cy="348.22" r="2.4" fill="#ff0000"/><circle cx="411.86" cy="349.14" r="2.4" fill="#ff0000"/><circle cx="415.47" cy="348.03" r="2.4" fill="#ff0000"/><circle cx="419.08" cy="348.12" r="2.4" fill="#ff0000"/><circle cx="422.68" cy="348.23" r="2.4" fill="#ff0000"/><circle cx="426.29" cy="347.36" r="2.4" fill="#ff0000"/><circle cx="429.90" cy="348.51" r="2.4" fill="#ff0000"/><circle cx="433.51" cy="348.60" r="2.4" fill="#ff0000"/><circle cx="437.12" cy="348.17" r="2.4" fill="#ff0000"/><circle cx="440.72" cy="348.94" r="2.4" fill="#ff0000"/><circle cx="444.33" cy="347.86" r="2.4" fill="#ff0000"/><circle cx="447.94" cy="347.64" r="2.4" fill="#ff0000"/><circle cx="451.55" cy="348.39" r="2.4" fill="#ff0000"/><circle cx="455.16" cy="347.73" r="2.4" fill="#ff0000"/><circle cx="458.76" cy="348.63" r="2.4" fill="#ff0000"/><circle cx="462.37" cy="348.93" r="2.4" fill="#ff0000"/><circle cx="465.98" cy="347.90" r="2.4" fill="#ff0000"/><circle cx="469.59" cy="348.47" r="2.4" fill="#ff0000"/><circle cx="473.20" cy="347.85" r="2.4" fill="#ff0000"/><circle cx="476.80" cy="347.50" r="2.4" fill="#ff0000"/><circle cx="480.41" cy="348.72" r="2.4" fill="#ff0000"/><circle cx="484.02" cy="348.22" r="2.4" fill="#ff0000"/><circle cx="487.63" cy="348.49" r="2.4" fill="#ff0000"/><circle cx="491.24" cy="348.89" r="2.4" fill="#ff0000"/><circle cx="494.84" cy="347.58" r="2.4" fill="#ff0000"/><circle cx="498.45" cy="348.04" r="2.4" fill="#ff0000"/><circle cx="502.06" cy="348.14" r="2.4" fill="#ff0000"/><circle cx="505.67" cy="347.69" r="2.4" fill="#ff0000"/><circle cx="509.28" cy="348.97" r="2.4" fill="#ff0000"/><circle cx="512.88" cy="348.53" r="2.4" fill="#ff0000"/><circle cx="516.49" cy="348.08" r="2.4" fill="#ff0000"/><circle cx="520.10" cy="349.52" r="2.4" fill="#ff0000"/><circle cx="523.71" cy="348.40" r="2.4" fill="#ff0000"/><circle cx="527.32" cy="348.80" r="2.4" fill="#ff0000"/>
<polyline points="72.71,350.34 76.32,350.74 79.92,351.00 83.53,351.00 87.14,351.00 90.75,351.00 94.36,351.00 97.96,351.00 101.57,351.00 105.18,351.00 108.79,351.00 112.40,351.00 116.00,351.00 119.61,351.00 123.22,351.00 126.83,351.00 130.44,351.00 134.04,351.00 137.65,351.00 141.26,351.00 144.87,351.00 148.48,351.00 152.08,351.00 155.69,351.00 159.30,351.00 162.91,351.00 166.52,351.00 170.12,351.00 173.73,351.00 177.34,351.00 180.95,351.00 184.56,351.00 188.16,351.00 191.77,351.00 195.38,351.00 198.99,351.00 202.60,351.00 206.20,351.00 209.81,351.00 213.42,351.00 217.03,351.00 220.64,351.00 224.24,351.00 227.85,351.00 231.46,351.00 235.07,351.00 238.68,351.00 242.28,351.00 245.89,351.00 249.50,351.00 253.11,351.00 256.72,351.00 260.32,351.00 263.93,351.00 267.54,351.00 271.15,351.00 274.76,351.00 278.36,351.00 281.97,351.00 285.58,351.00 289.19,351.00 292.80,351.00 296.40,351.00 300.01,351.00 303.62,351.00 307.23,351.00 310.84,351.00 314.44,351.00 318.05,351.00 321.66,351.00 325.27,351.00 328.88,351.00 332.48,351.00 336.09,351.00 339.70,351.00 343.31,351.00 346.92,351.00 350.52,351.00 354.13,351.00 357.74,351.00 361.35,351.00 364.96,351.00 368.56,351.00 372.17,351.00 375.78,351.00 379.39,351.00 383.00,351.00 386.60,351.00 390.21,351.00 393.82,351.00 397.43,351.00 401.04,351.00 404.64,351.00 408.25,351.00 411.86,351.00 415.47,351.00 419.08,351.00 422.68,351.00 426.29,351.00 429.90,351.00 433.51,351.00 437.12,351.00 440.72,351.00 444.33,351.00 447.94,351.00 451.55,351.00 455.16,351.00 458.76,351.00 462.37,351.00 465.98,351.00 469.59,351.00 473.20,351.00 476.80,351.00 480.41,351.00 484.02,351.00 487.63,351.00 491.24,351.00 494.84,351.00 498.45,351.00 502.06,351.00 505.67,351.00 509.28,351.00 512.88,351.00 516.49,351.00 520.10,350.74 523.71,350.34" stroke="#000" stroke-width="2.4" stroke-dasharray="1.5 1.35"/>
<ellipse cx="72.71" cy="350.34" rx="2.5" ry="2.9" fill="#000"/><ellipse cx="76.32" cy="350.74" rx="2.5" ry="2.9" fill="#000"/><ellipse cx="79.92" cy="351.00" rx="2.5" ry="2.9" fill="#000"/><ellipse cx="83.53" cy="351.00" rx="2.5" ry="2.9" fill="#000"/><ellipse cx="87.14" cy="351.00" rx="2.5" ry="2.9" fill="#000"/><ellipse cx="90.75" cy="351.00" rx="2.5" ry="2.9" fill="#000"/><ellipse cx="94.36" cy="351.00" rx="2.5" ry="2.9" fill="#000"/><ellipse cx="97.96" cy="351.00" rx="2.5" ry="2.9" fill="#000"/><ellipse cx="101.57" cy="351.00" rx="2.5" ry="2.9" fill="#000"/><ellipse cx="105.18" cy="351.00" rx="2.5" ry="2.9" fill="#000"/><ellipse cx="108.79" cy="351.00" rx="2.5" ry="2.9" fill="#000"/><ellipse cx="112.40" cy="351.00" rx="2.5" ry="2.9" fill="#000"/><ellipse cx="116.00" cy="351.00" rx="2.5" ry="2.9" fill="#000"/><ellipse cx="119.61" cy="351.00" rx="2.5" ry="2.9" fill="#000"/><ellipse cx="123.22" cy="351.00" rx="2.5" ry="2.9" fill="#000"/><ellipse cx="126.83" cy="351.00" rx="2.5" ry="2.9" fill="#000"/><ellipse cx="130.44" cy="351.00" rx="2.5" ry="2.9" fill="#000"/><ellipse cx="134.04" cy="351.00" rx="2.5" ry="2.9" fill="#000"/><ellipse cx="137.65" cy="351.00" rx="2.5" ry="2.9" fill="#000"/><ellipse cx="141.26" cy="351.00" rx="2.5" ry="2.9" fill="#000"/><ellipse cx="144.87" cy="351.00" rx="2.5" ry="2.9" fill="#000"/><ellipse cx="148.48" cy="351.00" rx="2.5" ry="2.9" fill="#000"/><ellipse cx="152.08" cy="351.00" rx="2.5" ry="2.9" fill="#000"/><ellipse cx="155.69" cy="351.00" rx="2.5" ry="2.9" fill="#000"/><ellipse cx="159.30" cy="351.00" rx="2.5" ry="2.9" fill="#000"/><ellipse cx="162.91" cy="351.00" rx="2.5" ry="2.9" fill="#000"/><ellipse cx="166.52" cy="351.00" rx="2.5" ry="2.9" fill="#000"/><ellipse cx="170.12" cy="351.00" rx="2.5" ry="2.9" fill="#000"/><ellipse cx="173.73" cy="351.00" rx="2.5" ry="2.9" fill="#000"/><ellipse cx="177.34" cy="351.00" rx="2.5" ry="2.9" fill="#000"/><ellipse cx="180.95" cy="351.00" rx="2.5" ry="2.9" fill="#000"/><ellipse cx="184.56" cy="351.00" rx="2.5" ry="2.9" fill="#000"/><ellipse cx="188.16" cy="351.00" rx="2.5" ry="2.9" fill="#000"/><ellipse cx="191.77" cy="351.00" rx="2.5" ry="2.9" fill="#000"/><ellipse cx="195.38" cy="351.00" rx="2.5" ry="2.9" fill="#000"/><ellipse cx="198.99" cy="351.00" rx="2.5" ry="2.9" fill="#000"/><ellipse cx="202.60" cy="351.00" rx="2.5" ry="2.9" fill="#000"/><ellipse cx="206.20" cy="351.00" rx="2.5" ry="2.9" fill="#000"/><ellipse cx="209.81" cy="351.00" rx="2.5" ry="2.9" fill="#000"/><ellipse cx="213.42" cy="351.00" rx="2.5" ry="2.9" fill="#000"/><ellipse cx="217.03" cy="351.00" rx="2.5" ry="2.9" fill="#000"/><ellipse cx="220.64" cy="351.00" rx="2.5" ry="2.9" fill="#000"/><ellipse cx="224.24" cy="351.00" rx="2.5" ry="2.9" fill="#000"/><ellipse cx="227.85" cy="351.00" rx="2.5" ry="2.9" fill="#000"/><ellipse cx="231.46" cy="351.00" rx="2.5" ry="2.9" fill="#000"/><ellipse cx="235.07" cy="351.00" rx="2.5" ry="2.9" fill="#000"/><ellipse cx="238.68" cy="351.00" rx="2.5" ry="2.9" fill="#000"/><ellipse cx="242.28" cy="351.00" rx="2.5" ry="2.9" fill="#000"/><ellipse cx="245.89" cy="351.00" rx="2.5" ry="2.9" fill="#000"/><ellipse cx="249.50" cy="351.00" rx="2.5" ry="2.9" fill="#000"/><ellipse cx="253.11" cy="351.00" rx="2.5" ry="2.9" fill="#000"/><ellipse cx="256.72" cy="351.00" rx="2.5" ry="2.9" fill="#000"/><ellipse cx="260.32" cy="351.00" rx="2.5" ry="2.9" fill="#000"/><ellipse cx="263.93" cy="351.00" rx="2.5" ry="2.9" fill="#000"/><ellipse cx="267.54" cy="351.00" rx="2.5" ry="2.9" fill="#000"/><ellipse cx="271.15" cy="351.00" rx="2.5" ry="2.9" fill="#000"/><ellipse cx="274.76" cy="351.00" rx="2.5" ry="2.9" fill="#000"/><ellipse cx="278.36" cy="351.00" rx="2.5" ry="2.9" fill="#000"/><ellipse cx="281.97" cy="351.00" rx="2.5" ry="2.9" fill="#000"/><ellipse cx="285.58" cy="351.00" rx="2.5" ry="2.9" fill="#000"/><ellipse cx="289.19" cy="351.00" rx="2.5" ry="2.9" fill="#000"/><ellipse cx="292.80" cy="351.00" rx="2.5" ry="2.9" fill="#000"/><ellipse cx="296.40" cy="351.00" rx="2.5" ry="2.9" fill="#000"/><ellipse cx="300.01" cy="351.00" rx="2.5" ry="2.9" fill="#000"/><ellipse cx="303.62" cy="351.00" rx="2.5" ry="2.9" fill="#000"/><ellipse cx="307.23" cy="351.00" rx="2.5" ry="2.9" fill="#000"/><ellipse cx="310.84" cy="351.00" rx="2.5" ry="2.9" fill="#000"/><ellipse cx="314.44" cy="351.00" rx="2.5" ry="2.9" fill="#000"/><ellipse cx="318.05" cy="351.00" rx="2.5" ry="2.9" fill="#000"/><ellipse cx="321.66" cy="351.00" rx="2.5" ry="2.9" fill="#000"/><ellipse cx="325.27" cy="351.00" rx="2.5" ry="2.9" fill="#000"/><ellipse cx="328.88" cy="351.00" rx="2.5" ry="2.9" fill="#000"/><ellipse cx="332.48" cy="351.00" rx="2.5" ry="2.9" fill="#000"/><ellipse cx="336.09" cy="351.00" rx="2.5" ry="2.9" fill="#000"/><ellipse cx="339.70" cy="351.00" rx="2.5" ry="2.9" fill="#000"/><ellipse cx="343.31" cy="351.00" rx="2.5" ry="2.9" fill="#000"/><ellipse cx="346.92" cy="351.00" rx="2.5" ry="2.9" fill="#000"/><ellipse cx="350.52" cy="351.00" rx="2.5" ry="2.9" fill="#000"/><ellipse cx="354.13" cy="351.00" rx="2.5" ry="2.9" fill="#000"/><ellipse cx="357.74" cy="351.00" rx="2.5" ry="2.9" fill="#000"/><ellipse cx="361.35" cy="351.00" rx="2.5" ry="2.9" fill="#000"/><ellipse cx="364.96" cy="351.00" rx="2.5" ry="2.9" fill="#000"/><ellipse cx="368.56" cy="351.00" rx="2.5" ry="2.9" fill="#000"/><ellipse cx="372.17" cy="351.00" rx="2.5" ry="2.9" fill="#000"/><ellipse cx="375.78" cy="351.00" rx="2.5" ry="2.9" fill="#000"/><ellipse cx="379.39" cy="351.00" rx="2.5" ry="2.9" fill="#000"/><ellipse cx="383.00" cy="351.00" rx="2.5" ry="2.9" fill="#000"/><ellipse cx="386.60" cy="351.00" rx="2.5" ry="2.9" fill="#000"/><ellipse cx="390.21" cy="351.00" rx="2.5" ry="2.9" fill="#000"/><ellipse cx="393.82" cy="351.00" rx="2.5" ry="2.9" fill="#000"/><ellipse cx="397.43" cy="351.00" rx="2.5" ry="2.9" fill="#000"/><ellipse cx="401.04" cy="351.00" rx="2.5" ry="2.9" fill="#000"/><ellipse cx="404.64" cy="351.00" rx="2.5" ry="2.9" fill="#000"/><ellipse cx="408.25" cy="351.00" rx="2.5" ry="2.9" fill="#000"/><ellipse cx="411.86" cy="351.00" rx="2.5" ry="2.9" fill="#000"/><ellipse cx="415.47" cy="351.00" rx="2.5" ry="2.9" fill="#000"/><ellipse cx="419.08" cy="351.00" rx="2.5" ry="2.9" fill="#000"/><ellipse cx="422.68" cy="351.00" rx="2.5" ry="2.9" fill="#000"/><ellipse cx="426.29" cy="351.00" rx="2.5" ry="2.9" fill="#000"/><ellipse cx="429.90" cy="351.00" rx="2.5" ry="2.9" fill="#000"/><ellipse cx="433.51" cy="351.00" rx="2.5" ry="2.9" fill="#000"/><ellipse cx="437.12" cy="351.00" rx="2.5" ry="2.9" fill="#000"/><ellipse cx="440.72" cy="351.00" rx="2.5" ry="2.9" fill="#000"/><ellipse cx="444.33" cy="351.00" rx="2.5" ry="2.9" fill="#000"/><ellipse cx="447.94" cy="351.00" rx="2.5" ry="2.9" fill="#000"/><ellipse cx="451.55" cy="351.00" rx="2.5" ry="2.9" fill="#000"/><ellipse cx="455.16" cy="351.00" rx="2.5" ry="2.9" fill="#000"/><ellipse cx="458.76" cy="351.00" rx="2.5" ry="2.9" fill="#000"/><ellipse cx="462.37" cy="351.00" rx="2.5" ry="2.9" fill="#000"/><ellipse cx="465.98" cy="351.00" rx="2.5" ry="2.9" fill="#000"/><ellipse cx="469.59" cy="351.00" rx="2.5" ry="2.9" fill="#000"/><ellipse cx="473.20" cy="351.00" rx="2.5" ry="2.9" fill="#000"/><ellipse cx="476.80" cy="351.00" rx="2.5" ry="2.9" fill="#000"/><ellipse cx="480.41" cy="351.00" rx="2.5" ry="2.9" fill="#000"/><ellipse cx="484.02" cy="351.00" rx="2.5" ry="2.9" fill="#000"/><ellipse cx="487.63" cy="351.00" rx="2.5" ry="2.9" fill="#000"/><ellipse cx="491.24" cy="351.00" rx="2.5" ry="2.9" fill="#000"/><ellipse cx="494.84" cy="351.00" rx="2.5" ry="2.9" fill="#000"/><ellipse cx="498.45" cy="351.00" rx="2.5" ry="2.9" fill="#000"/><ellipse cx="502.06" cy="351.00" rx="2.5" ry="2.9" fill="#000"/><ellipse cx="505.67" cy="351.00" rx="2.5" ry="2.9" fill="#000"/><ellipse cx="509.28" cy="351.00" rx="2.5" ry="2.9" fill="#000"/><ellipse cx="512.88" cy="351.00" rx="2.5" ry="2.9" fill="#000"/><ellipse cx="516.49" cy="351.00" rx="2.5" ry="2.9" fill="#000"/><ellipse cx="520.10" cy="350.74" rx="2.5" ry="2.9" fill="#000"/><ellipse cx="523.71" cy="350.34" rx="2.5" ry="2.9" fill="#000"/>
</g>
<rect x="399.5" y="23.5" width="126" height="95" fill="#fff" stroke="#5c5c5c" stroke-width="1" shape-rendering="crispEdges"/>
<line x1="404.9" y1="36.6" x2="439.9" y2="36.6" stroke="#0000ff" stroke-width="2.9" stroke-dasharray="7 2.3 2.4 2.3"/>
<circle cx="422.4" cy="36.6" r="2.8" fill="#0000ff"/>
<text x="442.5" y="43.2" font-size="17.3px">Average</text>
<line x1="404.9" y1="59.5" x2="439.9" y2="59.5" stroke="#00ff00" stroke-width="2.9" stroke-dasharray="7 7"/>
<circle cx="422.4" cy="59.5" r="2.8" fill="#00ff00"/>
<text x="442.5" y="66.3" font-size="17.3px">Subsapce</text>
<line x1="404.9" y1="82.4" x2="439.9" y2="82.4" stroke="#ff0000" stroke-width="2.9"/>
<circle cx="422.4" cy="82.4" r="2.8" fill="#ff0000"/>
<text x="442.5" y="89.8" font-size="17.3px">Proposed</text>
<line x1="404.9" y1="105.6" x2="438.2" y2="105.6" stroke="#000" stroke-width="2.9" stroke-dasharray="1.5 1.35"/>
<circle cx="422.4" cy="105.6" r="2.5" fill="#000"/>
<text x="442.5" y="112.5" font-size="17.3px">CRLB</text>
</svg>
</body></html>
